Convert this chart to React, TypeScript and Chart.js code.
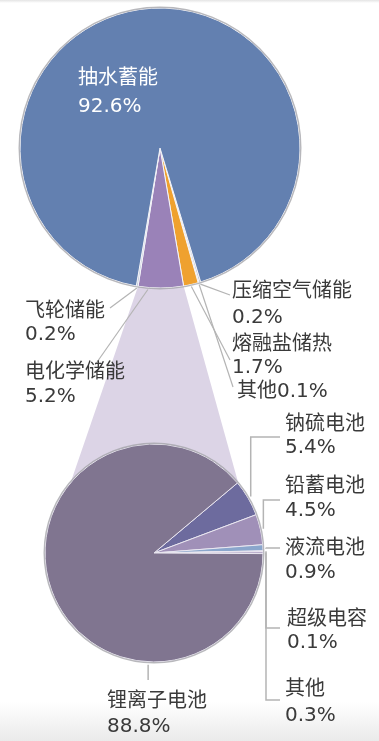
import React, { useEffect, useRef } from "react";
import { Chart, registerables } from "chart.js";

Chart.register(...registerables);

// ---- Data (top pie: all storage types, bottom pie: electrochemical breakdown) ----
const storageTypes = ["压缩空气储能", "其他", "熔融盐储热", "电化学储能", "飞轮储能", "抽水蓄能"];
const storageShares = [0.2, 0.1, 1.7, 5.2, 0.2, 92.6];
const batteryTypes = ["钠硫电池", "铅蓄电池", "液流电池", "超级电容", "其他", "锂离子电池"];
const batteryShares = [5.4, 4.5, 0.9, 0.1, 0.3, 88.8];
const EXPLODED_INDEX = 3; // 电化学储能

// ---- Styles ----
const storageColors = ["#A9B6CE", "#B7C2D6", "#EFA12F", "#9A82B8", "#B3BFD4", "#6380B0"];
const batteryColors = ["#6D6B9E", "#A090B8", "#8AA6CC", "#C8C2DA", "#B5A8C8", "#807590"];
const FONT_FAMILY = '"DejaVu Sans", "Noto Sans CJK SC", sans-serif';
const TEXT_COLOR = "#3a3a3a";
const LINE_COLOR = "#b4b4b4";
const LINK_COLOR = "#DCD4E6";

// ---- Label layout (annotation positions) ----
const topLabelLayout: any[] = [
  { x: 232, y: [292, 318], end: [230, 295] },
  { x: 237, y: [392], end: [233, 387], inline: true },
  { x: 232, y: [345, 368], end: [230, 360] },
  { x: 25, y: [373, 397], end: [95, 365], at: 0.78 },
  { x: 25, y: [312, 335], end: [110, 308] },
  { x: 78, y: [79, 107], inside: true },
];
const bottomLabelLayout: any[] = [
  { x: 285, y: [425, 448], elbowY: 437, endX: 280 },
  { x: 285, y: [487, 511], elbowY: 500, endX: 280 },
  { x: 285, y: [549, 573], elbowY: 548, endX: 280 },
  { x: 287, y: [620, 643], elbowY: 628, endX: 280 },
  { x: 285, y: [690, 716], elbowY: 700, endX: 280 },
  { x: 107, y: [702, 727], angleDeg: 93, endY: 680 },
];

function drawText(ctx: CanvasRenderingContext2D, lines: string[], x: number, ys: number[], color: string) {
  ctx.fillStyle = color;
  ctx.font = `20px ${FONT_FAMILY}`;
  ctx.textAlign = "left";
  ctx.textBaseline = "middle";
  lines.forEach((t, i) => ctx.fillText(t, x, ys[i]));
}

function ring(ctx: CanvasRenderingContext2D, el: any) {
  ctx.beginPath();
  ctx.arc(el.x, el.y, el.outerRadius + 0.8, 0, Math.PI * 2);
  ctx.strokeStyle = "rgba(160,160,165,0.75)";
  ctx.lineWidth = 1.4;
  ctx.stroke();
}

const topPlugin = {
  id: "topLabels",
  afterDatasetsDraw(chart: any) {
    const ctx = chart.ctx as CanvasRenderingContext2D;
    const meta = chart.getDatasetMeta(0);
    ctx.save();
    ring(ctx, meta.data[0]);
    meta.data.forEach((el: any, i: number) => {
      const lay = topLabelLayout[i];
      const name = storageTypes[i];
      const val = `${storageShares[i]}%`;
      const lines = lay.inline ? [name + val] : [name, val];
      if (lay.inside) {
        drawText(ctx, lines, lay.x, lay.y, "#ffffff");
        return;
      }
      const f = lay.at ?? 0.5;
      const a = el.startAngle + (el.endAngle - el.startAngle) * f;
      const r = el.outerRadius + 2;
      ctx.beginPath();
      ctx.moveTo(el.x + r * Math.cos(a), el.y + r * Math.sin(a));
      ctx.lineTo(lay.end[0], lay.end[1]);
      ctx.strokeStyle = LINE_COLOR;
      ctx.lineWidth = 1.2;
      ctx.stroke();
      drawText(ctx, lines, lay.x, lay.y, TEXT_COLOR);
    });
    ctx.restore();
  },
};

export default function App() {
  const topRef = useRef<HTMLCanvasElement>(null);
  const bottomRef = useRef<HTMLCanvasElement>(null);

  useEffect(() => {
    const topChart = new Chart(topRef.current!, {
      type: "pie",
      data: {
        labels: storageTypes,
        datasets: [
          {
            data: storageShares,
            backgroundColor: storageColors,
            borderColor: "#f4f4f8",
            borderWidth: 1,
          },
        ],
      },
      options: {
        responsive: false,
        animation: false,
        rotation: 163.1,
        layout: { padding: { left: 19.5, top: 7.5, right: 78.5, bottom: 452.5 } },
        plugins: { legend: { display: false }, tooltip: { enabled: false } },
        events: [],
      },
      plugins: [topPlugin],
    });

    const bottomPlugin = {
      id: "bottomLabels",
      beforeDatasetsDraw(chart: any) {
        const ctx = chart.ctx as CanvasRenderingContext2D;
        const src: any = topChart.getDatasetMeta(0).data[EXPLODED_INDEX];
        const b: any = chart.getDatasetMeta(0).data[0];
        if (!src || !b) return;
        const R = src.outerRadius;
        const pr = [src.x + R * Math.cos(src.startAngle), src.y + R * Math.sin(src.startAngle)];
        const pl = [src.x + R * Math.cos(src.endAngle), src.y + R * Math.sin(src.endAngle)];
        const aL = (-140 * Math.PI) / 180;
        const aR = (-39 * Math.PI) / 180;
        const r = b.outerRadius;
        ctx.save();
        ctx.beginPath();
        ctx.moveTo(pl[0], pl[1]);
        ctx.lineTo(pr[0], pr[1]);
        ctx.lineTo(b.x + r * Math.cos(aR), b.y + r * Math.sin(aR));
        ctx.lineTo(b.x, b.y);
        ctx.lineTo(b.x + r * Math.cos(aL), b.y + r * Math.sin(aL));
        ctx.closePath();
        ctx.fillStyle = LINK_COLOR;
        ctx.fill();
        ctx.restore();
      },
      afterDatasetsDraw(chart: any) {
        const ctx = chart.ctx as CanvasRenderingContext2D;
        const meta = chart.getDatasetMeta(0);
        ctx.save();
        ring(ctx, meta.data[0]);
        meta.data.forEach((el: any, i: number) => {
          const lay = bottomLabelLayout[i];
          const lines = [batteryTypes[i], `${batteryShares[i]}%`];
          const a =
            lay.angleDeg !== undefined
              ? (lay.angleDeg * Math.PI) / 180
              : (el.startAngle + el.endAngle) / 2;
          const r = el.outerRadius + 3;
          const sx = el.x + r * Math.cos(a);
          const sy = el.y + r * Math.sin(a);
          ctx.beginPath();
          ctx.moveTo(sx, sy);
          if (lay.endY !== undefined) {
            ctx.lineTo(sx, lay.endY);
          } else {
            ctx.lineTo(sx, lay.elbowY);
            ctx.lineTo(lay.endX, lay.elbowY);
          }
          ctx.strokeStyle = LINE_COLOR;
          ctx.lineWidth = 1.5;
          ctx.stroke();
          drawText(ctx, lines, lay.x, lay.y, TEXT_COLOR);
        });
        ctx.restore();
      },
    };

    const bottomChart = new Chart(bottomRef.current!, {
      type: "pie",
      data: {
        labels: batteryTypes,
        datasets: [
          {
            data: batteryShares,
            backgroundColor: batteryColors,
            borderColor: "#e9e6f0",
            borderWidth: 1,
          },
        ],
      },
      options: {
        responsive: false,
        animation: false,
        rotation: 50,
        layout: { padding: { left: 44.5, top: 443.5, right: 115.5, bottom: 78.5 } },
        plugins: { legend: { display: false }, tooltip: { enabled: false } },
        events: [],
      },
      plugins: [bottomPlugin],
    });

    return () => {
      bottomChart.destroy();
      topChart.destroy();
    };
  }, []);

  const canvasStyle: React.CSSProperties = { position: "absolute", left: 0, top: 0 };
  return (
    <div
      style={{
        position: "fixed",
        left: 0,
        top: 0,
        width: 379,
        height: 741,
        overflow: "hidden",
        background:
          "linear-gradient(to bottom, #e4e4e4 0px, #ffffff 3px, #ffffff 702px, #eaeaea 741px)",
      }}
    >
      <canvas ref={bottomRef} width={379} height={741} style={canvasStyle} />
      <canvas ref={topRef} width={379} height={741} style={canvasStyle} />
    </div>
  );
}
